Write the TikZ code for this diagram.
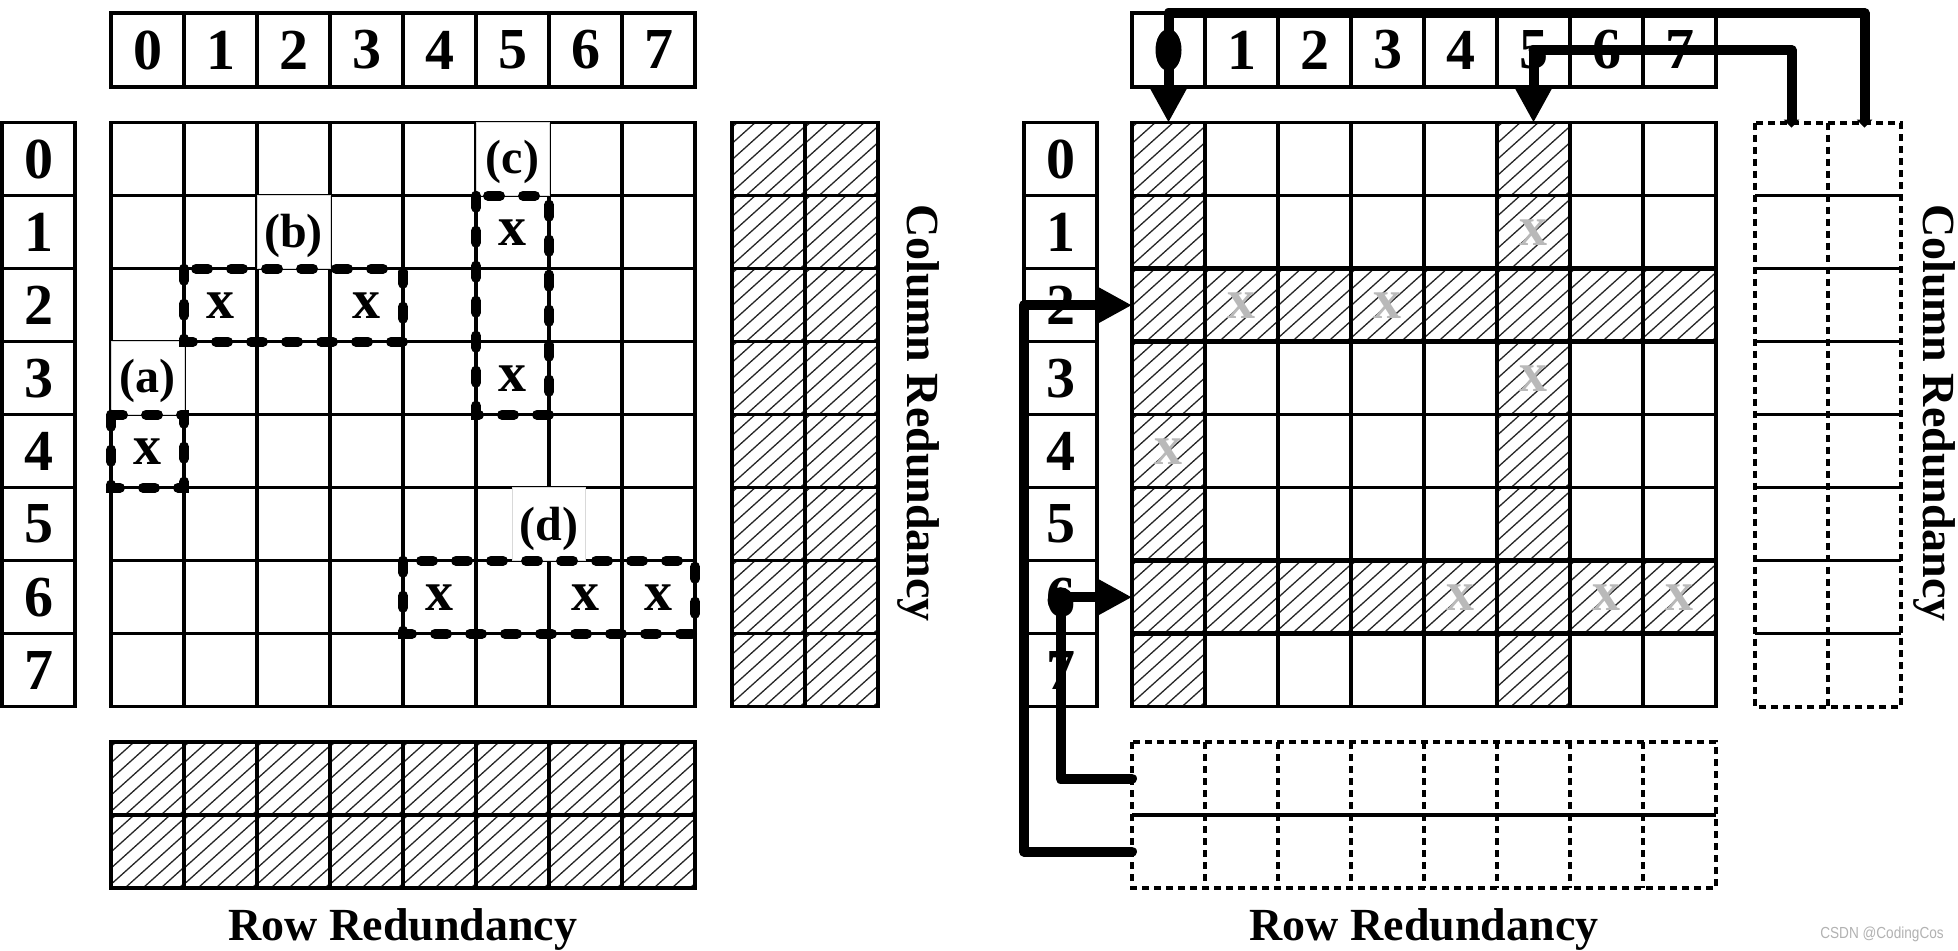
\documentclass[tikz,border=0pt]{standalone}
\usepackage{fontspec}
\setmainfont{Liberation Serif}
\newfontfamily\wmfont{Liberation Sans}
\usetikzlibrary{arrows.meta,calc}
\tikzset{
  cellbox/.style={draw=black, line width=3.5pt, minimum width=73pt, minimum height=73pt,
    inner sep=0pt, outer sep=0pt, font=\fontsize{58}{58}\selectfont\bfseries},
  hdrbox/.style={cellbox, minimum height=74pt},
  ghost/.style={minimum width=73pt, minimum height=73pt, inner sep=0pt, outer sep=0pt},
  hatched/.style={path picture={
    \foreach \i in {-5,...,5}{
      \draw[line width=1.3pt, black!85] ($(path picture bounding box.center)+(\i*18,0)$) ++(-70,63) -- ++(140,-126);
    }}},
  labelbox/.style={fill=white, draw=gray!30, line width=0.8pt, minimum width=73pt,
    minimum height=73pt, inner sep=0pt, outer sep=0pt},
  labeltext/.style={font=\fontsize{48}{48}\selectfont\bfseries, inner sep=0pt},
  xmark/.style={font=\fontsize{56}{56}\selectfont\bfseries, inner sep=0pt},
  grayx/.style={xmark, text=gray!55},
  faultbox/.style={line width=10pt, dash pattern=on 12pt off 23pt, line cap=round},
  titletext/.style={font=\fontsize{46}{46}\selectfont\bfseries, inner sep=0pt},
  dashedred/.style={line width=4pt, dash pattern=on 7pt off 5pt},
  solidred/.style={line width=3.5pt},
  thickline/.style={line width=10pt, line cap=round, line join=round},
  bigtip/.style={-{Triangle[length=34pt,width=34pt]}},
  smalltip/.style={-{Triangle[length=8pt,width=15pt]}}
}
\begin{document}
\begin{tikzpicture}[x=1pt,y=-1pt]
\fill[white] (0,0) rectangle (1958,950);
\useasboundingbox (0,0) rectangle (1958,950);

% ================= LEFT PANEL =================
\foreach \c in {0,...,7} \node[hdrbox] (LT\c) at ({147.5+73*\c},50) {\c};
\foreach \r in {0,...,7} \node[cellbox] (LS\r) at (38.5,{159.2+73*\r}) {\r};
\foreach \r in {0,...,7} \foreach \c in {0,...,7}
  \node[cellbox] (L\r-\c) at ({147.5+73*\c},{159.2+73*\r}) {};
\foreach \r in {0,...,7} \foreach \k in {0,1}
  \node[cellbox,hatched] (LC\r-\k) at ({768.5+73*\k},{159.2+73*\r}) {};
\foreach \k in {0,1} \foreach \c in {0,...,7}
  \node[cellbox,hatched] (LR\k-\c) at ({147.5+73*\c},{778.5+73*\k}) {};

% label boxes
\node[labelbox] (lba) at (L3-0) {};
\node[labelbox] (lbb) at (L1-2) {};
\node[labelbox] (lbc) at (L0-5) {};
\node[labelbox] (lbd) at ($(L5-5)!0.5!(L5-6)$) {};
\node[labeltext] (ta) at ($(lba.center)+(0,3)$) {(a)};
\node[labeltext] (tb) at ($(lbb.center)+(0,4)$) {(b)};
\node[labeltext] (tc) at ($(lbc.center)+(0,3)$) {(c)};
\node[labeltext] (td) at ($(lbd.center)+(0,5)$) {(d)};

% faulty cells
\node[xmark] (xa1) at (L4-0) {x};
\node[xmark] (xb1) at (L2-1) {x};
\node[xmark] (xb2) at (L2-3) {x};
\node[xmark] (xc1) at (L1-5) {x};
\node[xmark] (xc2) at (L3-5) {x};
\node[xmark] (xd1) at (L6-4) {x};
\node[xmark] (xd2) at (L6-6) {x};
\node[xmark] (xd3) at (L6-7) {x};

% fault groups
\draw[faultbox] (L4-0.north west) rectangle (L4-0.south east);
\draw[faultbox] (L2-1.north west) rectangle (L2-3.south east);
\draw[faultbox] (L1-5.north west) rectangle (L3-5.south east);
\draw[faultbox] (L6-4.north west) rectangle (L6-7.south east);

\node[titletext] (lrr) at (403,929) {Row Redundancy};
\node[titletext, rotate=-90] (lcr) at (918,413) {Column Redundancy};

% ================= RIGHT PANEL =================
\foreach \c in {0,...,7} \node[hdrbox] (RT\c) at ({1168.5+73*\c},50) {\c};
\foreach \r in {0,...,7} \node[cellbox] (RS\r) at (1060.5,{159.2+73*\r}) {\r};
\foreach \r in {0,...,7} \foreach \c in {0,...,7} {
  \pgfmathtruncatemacro\hh{((\r==2)||(\r==6)||(\c==0)||(\c==5))?1:0}
  \ifnum\hh=1
    \node[cellbox,hatched] (R\r-\c) at ({1168.5+73*\c},{159.2+73*\r}) {};
  \else
    \node[cellbox] (R\r-\c) at ({1168.5+73*\c},{159.2+73*\r}) {};
  \fi
}
\draw[line width=4.5pt] (R2-0.north west) rectangle (R2-7.south east);
\draw[line width=4.5pt] (R6-0.north west) rectangle (R6-7.south east);

\foreach \p in {1-5,2-1,2-3,3-5,4-0,6-4,6-6,6-7}
  \node[grayx] (gx\p) at (R\p) {x};

% spare columns
\foreach \r in {0,...,7} \foreach \k in {0,1}
  \node[ghost] (RC\r-\k) at ({1791.5+73*\k},{159.2+73*\r}) {};
\foreach \r in {1,...,7} \draw[solidred] (RC\r-0.north west) -- (RC\r-1.north east);
\draw[dashedred] (RC0-0.north west) rectangle (RC7-1.south east);
\draw[dashedred] (RC0-0.north east) -- (RC7-0.south east);

% spare rows
\foreach \k in {0,1} \foreach \c in {0,...,7}
  \node[ghost] (RR\k-\c) at ({1168.5+73*\c},{778.5+73*\k}) {};
\draw[solidred] (RR1-0.north west) -- (RR1-7.north east);
\draw[dashedred] (RR0-0.north west) rectangle (RR1-7.south east);
\foreach \c in {0,...,6} \draw[dashedred] (RR0-\c.north east) -- (RR1-\c.south east);

% replacement arrows
\draw[thickline, smalltip] (RT0.center) -- (RT0.north) -| ($(RC0-1.north)+(0,5)$);
\draw[thickline, bigtip] (RT0.center) -- (R0-0.north);
\fill (RT0.center) ellipse [x radius=13pt, y radius=21pt];
\draw[thickline, smalltip] (RT5.center) -| ($(RC0-0.north)+(0,5)$);
\draw[thickline, bigtip] (RT5.center) -- (R0-5.north);

\draw[thickline, bigtip] (RR1-0.west) -- (RR1-0.west -| RS2.west) -- (RS2.west) -- (R2-0.west);
\draw[thickline, bigtip] (RR0-0.west) -- (RR0-0.west -| RS6.center) -- (RS6.center) -- (R6-0.west);
\fill ($(RS6.center)+(0,3)$) circle (13pt);

\node[titletext] (rrr) at (1424,929) {Row Redundancy};
\node[titletext, rotate=-90] (rcr) at (1934,413) {Column Redundancy};

\node[text=gray!60, inner sep=0pt, font=\wmfont\fontsize{16}{16}\selectfont] (wm) at (1882,934)
  {\scalebox{0.85}[1]{CSDN @CodingCos}};
\end{tikzpicture}
\end{document}
